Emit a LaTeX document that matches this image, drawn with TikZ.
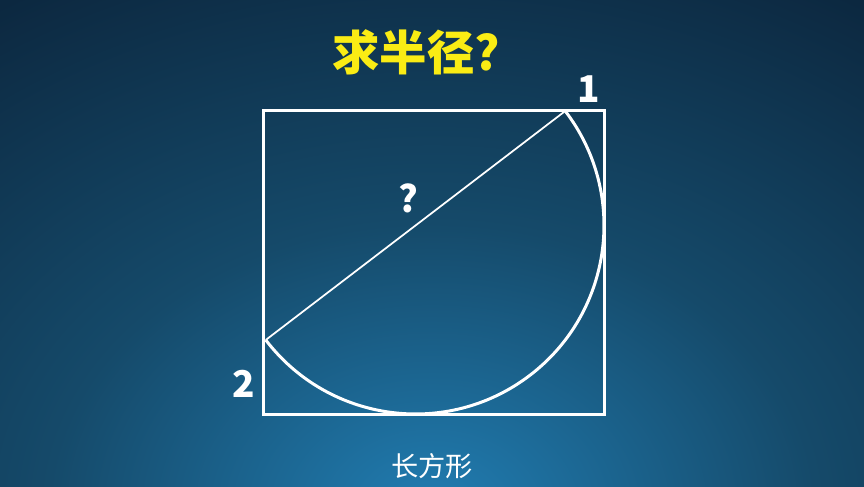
\documentclass[tikz,border=0pt]{standalone}
\usepackage{fontspec}
\newfontfamily\cjk{Noto Sans CJK SC}
\usetikzlibrary{calc}
\definecolor{bgdark}{RGB}{12,40,64}
\definecolor{bgmid}{RGB}{21,74,106}
\definecolor{bglight}{RGB}{33,125,178}
\definecolor{titleyellow}{RGB}{250,236,20}
\pgfdeclareradialshading{bgglow}{\pgfpoint{0bp}{0bp}}{color(0bp)=(bglight); color(12bp)=(bgmid); color(25bp)=(bgdark); color(50bp)=(bgdark)}
\tikzstyle{whiteline}=[draw=white,line width=0.6mm]
\tikzstyle{thinline}=[draw=white,line width=0.35mm]
\tikzstyle{numlabel}=[text=white,font=\cjk\bfseries\fontsize{21}{24}\selectfont]

\begin{document}
\begin{tikzpicture}
    % background
    \useasboundingbox (0,0) rectangle (17.28,9.72);
    \begin{scope}
      \clip (0,0) rectangle (17.28,9.72);
      \fill[bgdark] (0,0) rectangle (17.28,9.72);
      \shade[shading=bgglow] (8.64,-0.5) ellipse (16 and 12);
    \end{scope}

    % rectangle and half circle
    \draw[whiteline] (5.26,1.44) rectangle (12.08,7.5);
    \coordinate (C) at (8.31,5.21);
    \coordinate (A) at ($(C)+(37.4:3.77)$);
    \coordinate (B) at ($(C)+(217.4:3.77)$);
    \draw[thinline] (A) -- (B);
    \draw[whiteline] (A) arc[start angle=37.4,end angle=-142.6,radius=3.77];

    \node[text=titleyellow,font=\cjk\bfseries\fontsize{27}{30}\selectfont] (title) at (8.32,8.68) {求半径?};
    \node[numlabel] (one) at (11.78,7.94) {1};
    \node[numlabel] (two) at (4.88,2.04) {2};
    \node[numlabel] (ask) at (8.16,5.76) {?};
    \node[text=white,font=\cjk\fontsize{15.5}{18}\selectfont] (kind) at (8.64,0.40) {长方形};
\end{tikzpicture}
\end{document}
